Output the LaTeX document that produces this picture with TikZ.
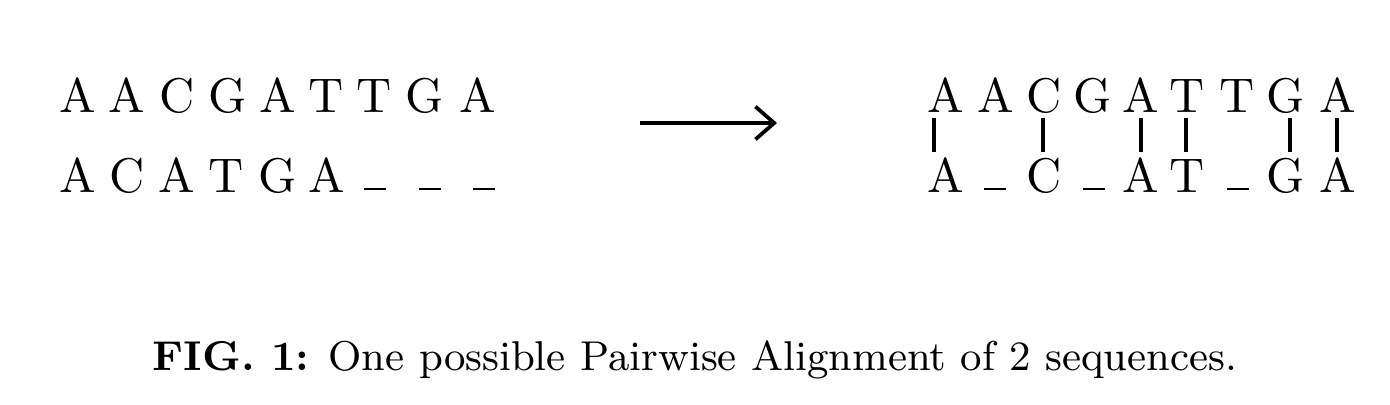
\documentclass[tikz,border=0pt]{standalone}
\usetikzlibrary{arrows.meta}
\begin{document}
\begin{tikzpicture}[x=0.0075cm,y=-0.0075cm,
  base/.style={anchor=base,inner sep=0pt,font=\fontsize{10.4}{12}\selectfont},
  bar/.style={line width=0.7pt}]
\useasboundingbox (0,0) rectangle (1390,404);
% left top
\foreach \c/\x [count=\i] in {A/78,A/127,C/177,G/228,A/278,T/326,T/374,G/425,A/478}
  \node[base] (lt\i) at (\x,112) {\c};
% left bottom
\foreach \c/\x [count=\i] in {A/78,C/127,A/177,T/226,G/278,A/327}
  \node[base] (lb\i) at (\x,192) {\c};
\foreach \x [count=\i] in {375,430,484}
  \draw[bar,line width=0.5pt] (\x-11,189) -- (\x+11,189);
% arrow
\coordinate (as) at (640,123);
\coordinate (ae) at (777,123);
\draw[-{Straight Barb[length=4pt,width=7pt]},line width=0.8pt] (as) -- (ae);
% right top
\foreach \c/\x [count=\i] in {A/946,A/996,C/1044,G/1093,A/1141,T/1187,T/1237,G/1286,A/1338}
  \node[base] (rt\i) at (\x,112) {\c};
% right bottom
\foreach \c/\x/\n in {A/946/1,C/1044/3,A/1141/5,T/1187/6,G/1286/8,A/1338/9}
  \node[base] (rb\n) at (\x,192) {\c};
\foreach \x in {995,1094,1238}
  \draw[bar,line width=0.5pt] (\x-11,189) -- (\x+11,189);
% match bars
\foreach \i/\x in {1/934,3/1043,5/1141,6/1186,8/1290,9/1337}
  \draw[bar] (\x,118) -- (\x,152);
% caption
\node[base,font=\fontsize{8.9}{11}\selectfont] (cap) at (695,370) {\textbf{FIG. 1:} One possible Pairwise Alignment of 2 sequences.};
\end{tikzpicture}
\end{document}
